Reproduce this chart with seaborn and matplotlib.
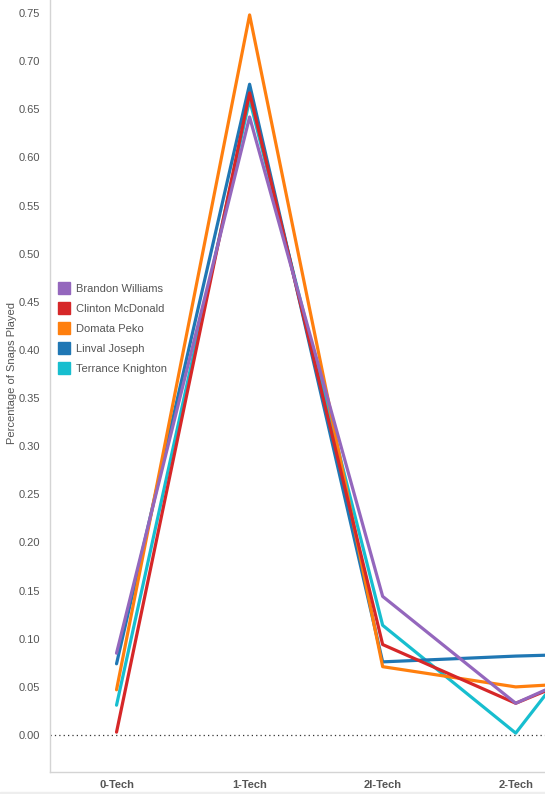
import matplotlib.pyplot as plt
import pandas as pd
import seaborn as sns
from matplotlib.lines import Line2D
from matplotlib.patches import Rectangle

# Data (last category lies past the right edge, only its start shows)
categories = ["0-Tech", "1-Tech", "2I-Tech", "2-Tech", "3-Tech"]
players = ["Brandon Williams", "Clinton McDonald", "Domata Peko", "Linval Joseph", "Terrance Knighton"]
brandon = [0.085, 0.642, 0.144, 0.033, 0.095]
clinton = [0.003, 0.667, 0.094, 0.033, 0.090]
domata = [0.047, 0.748, 0.071, 0.050, 0.058]
linval = [0.074, 0.676, 0.076, 0.082, 0.086]
terrance = [0.031, 0.660, 0.114, 0.002, 0.180]
colors = ["#9467bd", "#d62728", "#ff7f0e", "#1f77b4", "#17becf"]

series = [brandon, clinton, domata, linval, terrance]
rows = []
for name, vals in zip(players, series):
    for i, (cat, v) in enumerate(zip(categories, vals)):
        rows.append({"Position": cat, "idx": i, "Player": name, "Pct": v})
df = pd.DataFrame(rows)

sns.set_style("white")
plt.rcParams["font.family"] = ["Liberation Sans", "DejaVu Sans"]

fig = plt.figure(figsize=(5.45, 7.94), dpi=100)
ax = fig.add_axes([50 / 545, 22 / 794, 495 / 545, 772 / 794])

palette = dict(zip(players, colors))
draw_order = ["Terrance Knighton", "Linval Joseph", "Domata Peko", "Clinton McDonald", "Brandon Williams"]
sns.lineplot(data=df, x="idx", y="Pct", hue="Player", hue_order=draw_order,
             palette=palette, sort=False, linewidth=2.3, legend=False, ax=ax)

ax.axhline(0, color="#333333", ls=(0, (1, 2.5)), lw=0.9, zorder=1)

ax.set_yticks([i * 0.05 for i in range(16)])
ax.set_yticklabels([f"{i * 0.05:.2f}" for i in range(16)])
ax.set_xticks(range(4))
ax.set_xticklabels(categories[:4], fontweight="bold")
ax.set_xticks([-0.5, 0.5, 1.5, 2.5], minor=True)
# set limits after the ticks, set_xticks would widen the view
ax.set_xlim(-0.5, 3.22)
ax.set_ylim(-0.0384, 0.7635)
ax.tick_params(axis="x", which="major", length=0, pad=6, labelsize=8, labelcolor="#555555")
ax.tick_params(axis="x", which="minor", length=4, color="#cccccc", width=1)
ax.tick_params(axis="y", length=5, color="#cccccc", width=1, pad=2, labelsize=8, labelcolor="#555555")
ax.set_xlabel("")
ax.set_ylabel("Percentage of Snaps Played", fontsize=8, color="#555555")
ax.yaxis.set_label_coords(-0.066, 0.517)

for s in ["top", "right"]:
    ax.spines[s].set_visible(False)
for s in ["left", "bottom"]:
    ax.spines[s].set_color("#d4d4d4")
    ax.spines[s].set_linewidth(1)

handles = [Line2D([], [], marker="s", ls="", markersize=9, color=c) for c in colors]
fig.legend(handles, players, loc="upper left", bbox_to_anchor=(48 / 545, 1 - 274 / 794),
           frameon=False, fontsize=8, handlelength=1.0, handletextpad=0.6,
           labelspacing=0.9, labelcolor="#555555")

# thin grey strip along the bottom edge
fig.patches.append(Rectangle((0, 0), 1, 2 / 794, transform=fig.transFigure,
                             color="#eeeeee", zorder=0))

fig.savefig("out.png", dpi=100)
